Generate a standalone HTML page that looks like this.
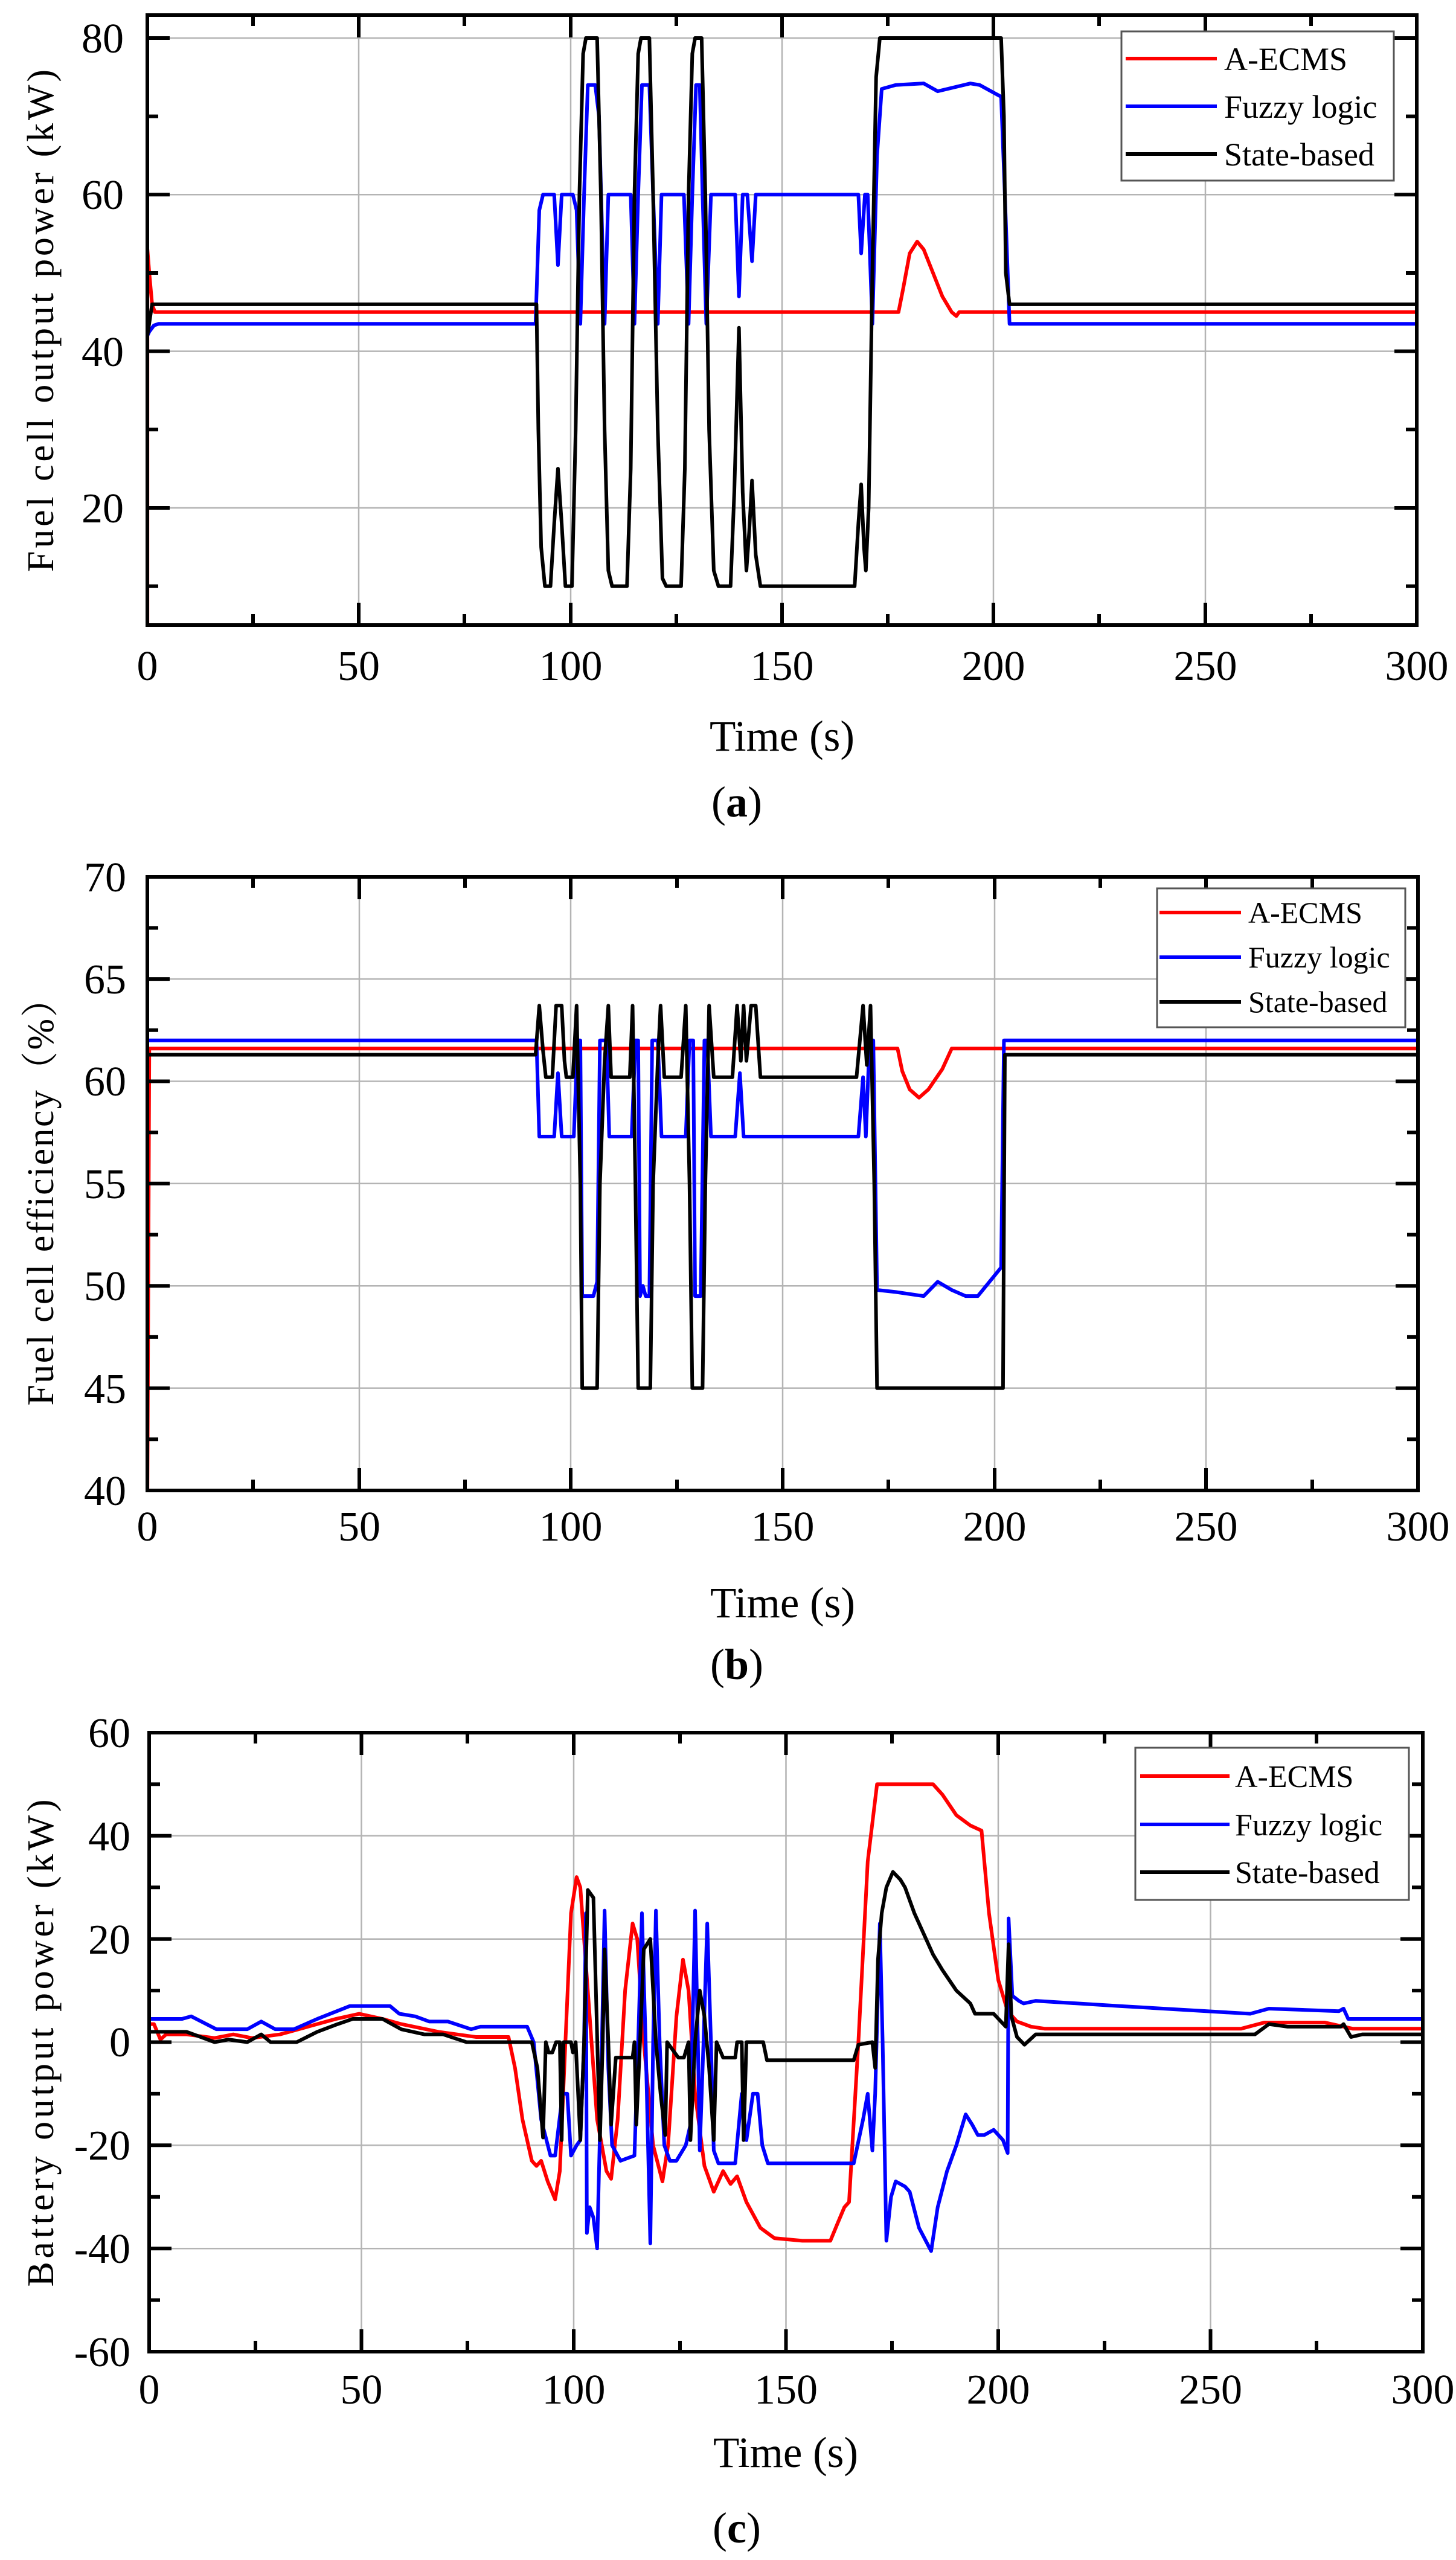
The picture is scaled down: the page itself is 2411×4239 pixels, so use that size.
<!DOCTYPE html>
<html><head><meta charset="utf-8"><style>html,body{margin:0;padding:0;background:#fff}svg{display:block}</style></head>
<body>
<svg width="2411" height="4239" viewBox="0 0 2411 4239" xmlns="http://www.w3.org/2000/svg" font-family="'Liberation Serif', 'Noto Serif CJK SC', serif">
<defs>
<clipPath id="ca"><rect x="244" y="25" width="2102" height="1010"/></clipPath>
<clipPath id="cb"><rect x="244" y="1452" width="2104" height="1016"/></clipPath>
<clipPath id="cc"><rect x="247" y="2869" width="2109" height="1025"/></clipPath>
</defs>
<rect width="2411" height="4239" fill="#fff"/>

<!-- ============ PLOT A ============ -->
<g stroke="#b4b4b4" stroke-width="2.5" fill="none">
<path d="M594 25V1035M945 25V1035M1295 25V1035M1645 25V1035M1996 25V1035M244 841H2346M244 581.6H2346M244 322.3H2346M244 63H2346"/>
</g>
<g clip-path="url(#ca)" fill="none" stroke-linejoin="round">
<g transform="matrix(1.545 0 0 -12.967 0 1100.3)">
<polyline vector-effect="non-scaling-stroke" stroke="#ff0000" stroke-width="6" points="158,5 158,53 160,50 163,46 166,45 963,45 968,48 975,52.5 983,54 990,53 1000,50 1010,47 1020,45 1025,44.5 1028,45 1518,45"/>
<polyline vector-effect="non-scaling-stroke" stroke="#0000ff" stroke-width="6" points="158,42 160,42.5 165,43.3 170,43.5 574,43.5 578,58 582,60 594,60 598,51 602,60 614,60 618,58 622,43.5 626,60 630,74 638,74 642,70 648,43.5 652,60 676,60 680,43.5 684,60 688,74 696,74 700,60 705,43.5 709,60 733,60 738,43.5 742,60 746,74 750,74 753,60 757,43.5 762,60 788,60 792,47 796,60 801,60 806,51.5 810,60 920,60 923,52.5 927,60 930,60 935,43.5 940,65 945,73.5 960,74 990,74.2 1005,73.2 1040,74.2 1050,74 1073,72.5 1077,60 1082,43.5 1518,43.5"/>
<polyline vector-effect="non-scaling-stroke" stroke="#000" stroke-width="6" points="158,42 163,46 575,46 577,30 580,15 584,10 590,10 594,18 598,25 602,18 606,10 613,10 617,30 621,60 625,78 628,80 640,80 644,60 648,30 652,12 656,10 672,10 676,25 680,60 684,78 687,80 696,80 700,60 705,30 710,11 714,10 730,10 734,25 738,60 742,78 745,80 752,80 756,60 760,30 765,12 770,10 783,10 787,22 792,43 796,22 800,12 803,17 806,23.5 810,14 815,10 916,10 920,18 923,23 926,15 928,12 931,20 935,50 939,75 943,80 1073,80 1076,70 1078,50 1082,46 1518,46"/>
</g></g>
<g stroke="#000" stroke-width="6" fill="none">
<path d="M594 1035v-37M945 1035v-37M1295 1035v-37M1645 1035v-37M1996 1035v-37M594 25v37M945 25v37M1295 25v37M1645 25v37M1996 25v37
M419 1035v-18M769 1035v-18M1120 1035v-18M1470 1035v-18M1820 1035v-18M2171 1035v-18M419 25v18M769 25v18M1120 25v18M1470 25v18M1820 25v18M2171 25v18
M244 841h37M244 581.6h37M244 322.3h37M244 63h37M2346 841h-37M2346 581.6h-37M2346 322.3h-37M2346 63h-37
M244 970.6h18M244 711.3h18M244 452h18M244 192.6h18M2346 970.6h-18M2346 711.3h-18M2346 452h-18M2346 192.6h-18"/>
<rect x="244" y="25" width="2102" height="1010"/>
</g>
<g font-size="70" text-anchor="end">
<text x="205" y="87">80</text><text x="205" y="346">60</text><text x="205" y="606">40</text><text x="205" y="865">20</text>
</g>
<g font-size="70" text-anchor="middle">
<text x="244" y="1126">0</text><text x="594" y="1126">50</text><text x="945" y="1126">100</text><text x="1295" y="1126">150</text><text x="1645" y="1126">200</text><text x="1996" y="1126">250</text><text x="2346" y="1126">300</text>
<text x="1295" y="1243" textLength="240" lengthAdjust="spacingAndGlyphs" font-size="72">Time (s)</text>
<text x="1220" y="1352" font-size="72">(<tspan font-weight="bold">a</tspan>)</text>
</g>
<text transform="translate(88 531) rotate(-90)" text-anchor="middle" font-size="62" textLength="832" lengthAdjust="spacing">Fuel cell output power (kW)</text>
<g>
<rect x="1857" y="52" width="451" height="247" fill="#fff" stroke="#555" stroke-width="3"/>
<path d="M1864 97h151" stroke="#ff0000" stroke-width="6"/><path d="M1864 176h151" stroke="#0000ff" stroke-width="6"/><path d="M1864 255h151" stroke="#000" stroke-width="6"/>
<g font-size="54"><text x="2027" y="116">A-ECMS</text><text x="2027" y="195">Fuzzy logic</text><text x="2027" y="274">State-based</text></g>
</g>

<!-- ============ PLOT B ============ -->
<g stroke="#b4b4b4" stroke-width="2.5" fill="none">
<path d="M595 1452V2468M945 1452V2468M1296 1452V2468M1647 1452V2468M1997 1452V2468M244 2298.6H2348M244 2129.2H2348M244 1959.8H2348M244 1790.5H2348M244 1621.1H2348"/>
</g>
<g clip-path="url(#cb)" fill="none" stroke-linejoin="round">
<g transform="matrix(1.545 0 0 -33.87 0 3822.7)">
<polyline vector-effect="non-scaling-stroke" stroke="#ff0000" stroke-width="6" points="158,40 160,61.6 962,61.6 967,60.5 975,59.6 985,59.2 995,59.6 1010,60.6 1020,61.6 1520,61.6"/>
<polyline vector-effect="non-scaling-stroke" stroke="#0000ff" stroke-width="6" points="158,62 575,62 578,57.3 594,57.3 598,60.4 602,57.3 615,57.3 619,62 622,62 624,49.5 636,49.5 640,50.2 643,62 650,62 653,57.3 677,57.3 681,62 684,62 686,49.5 689,50 692,49.5 696,49.5 699,62 705,62 709,57.3 735,57.3 739,62 743,62 745,49.5 751,49.5 755,62 758,62 762,57.3 788,57.3 793,60.4 797,57.3 920,57.3 925,60.2 928,57.3 932,62 936,62 940,49.8 960,49.7 990,49.5 1005,50.2 1020,49.8 1035,49.5 1048,49.5 1073,50.9 1076,62 1520,62"/>
<polyline vector-effect="non-scaling-stroke" stroke="#000" stroke-width="6" points="158,61.3 574,61.3 578,63.7 582,61.5 585,60.2 592,60.2 596,63.7 602,63.7 605,61 607,60.2 614,60.2 618,63.7 622,55 624,45 640,45 643,55 648,61 652,63.7 655,60.2 675,60.2 678,63.7 681,55 684,45 697,45 700,55 705,61 708,63.7 712,60.2 730,60.2 735,63.7 739,55 742,45 753,45 756,55 760,63.7 765,60.2 785,60.2 790,63.7 794,61 797,63.7 800,61 805,63.7 810,63.7 815,60.2 918,60.2 925,63.7 929,60.8 933,63.7 937,55 940,45 1075,45 1077,61.3 1520,61.3"/>
</g></g>
<g stroke="#000" stroke-width="6" fill="none">
<path d="M595 2468v-37M945 2468v-37M1296 2468v-37M1647 2468v-37M1997 2468v-37M595 1452v37M945 1452v37M1296 1452v37M1647 1452v37M1997 1452v37
M419 2468v-18M770 2468v-18M1121 2468v-18M1471 2468v-18M1822 2468v-18M2173 2468v-18M419 1452v18M770 1452v18M1121 1452v18M1471 1452v18M1822 1452v18M2173 1452v18
M244 2298.6h37M244 2129.2h37M244 1959.8h37M244 1790.5h37M244 1621.1h37M2348 2298.6h-37M2348 2129.2h-37M2348 1959.8h-37M2348 1790.5h-37M2348 1621.1h-37
M244 2383.2h18M244 2213.9h18M244 2044.5h18M244 1875.2h18M244 1705.8h18M244 1536.5h18M2348 2383.2h-18M2348 2213.9h-18M2348 2044.5h-18M2348 1875.2h-18M2348 1705.8h-18M2348 1536.5h-18"/>
<rect x="244" y="1452" width="2104" height="1016"/>
</g>
<g font-size="70" text-anchor="end">
<text x="209" y="1476">70</text><text x="209" y="1645">65</text><text x="209" y="1814">60</text><text x="209" y="1984">55</text><text x="209" y="2153">50</text><text x="209" y="2323">45</text><text x="209" y="2492">40</text>
</g>
<g font-size="70" text-anchor="middle">
<text x="244" y="2551">0</text><text x="595" y="2551">50</text><text x="945" y="2551">100</text><text x="1296" y="2551">150</text><text x="1647" y="2551">200</text><text x="1997" y="2551">250</text><text x="2348" y="2551">300</text>
<text x="1296" y="2678" textLength="240" lengthAdjust="spacingAndGlyphs" font-size="72">Time (s)</text>
<text x="1220" y="2780" font-size="72">(<tspan font-weight="bold">b</tspan>)</text>
</g>
<text transform="translate(88 1975) rotate(-90)" text-anchor="middle" font-size="62" textLength="705" lengthAdjust="spacing">Fuel cell efficiency（%）</text>
<g>
<rect x="1916" y="1471" width="411" height="230" fill="#fff" stroke="#555" stroke-width="3"/>
<path d="M1920 1511h135" stroke="#ff0000" stroke-width="6"/><path d="M1920 1585h135" stroke="#0000ff" stroke-width="6"/><path d="M1920 1659h135" stroke="#000" stroke-width="6"/>
<g font-size="50"><text x="2067" y="1528">A-ECMS</text><text x="2067" y="1602">Fuzzy logic</text><text x="2067" y="1676">State-based</text></g>
</g>

<!-- ============ PLOT C ============ -->
<g stroke="#b4b4b4" stroke-width="2.5" fill="none">
<path d="M598.5 2869V3894M950 2869V3894M1301.5 2869V3894M1653 2869V3894M2004.5 2869V3894M247 3039.8H2356M247 3210.7H2356M247 3381.5H2356M247 3552.3H2356M247 3723.2H2356"/>
</g>
<g clip-path="url(#cc)" fill="none" stroke-linejoin="round">
<g transform="matrix(1.545 0 0 -8.542 0 3381.5)">
<polyline vector-effect="non-scaling-stroke" stroke="#ff0000" stroke-width="6" points="160,3.5 165,3.5 172,0.5 178,1.5 200,1.5 230,0.8 250,1.5 270,0.8 300,1.5 330,3 360,4.5 385,5.5 410,4.5 430,3.5 470,2 510,1 545,1 552,-5 560,-15 570,-23 575,-24 580,-23 587,-27 595,-30.5 600,-25 606,0 612,25 618,32 622,30 630,10 640,-15 650,-25 655,-26.5 662,-15 670,10 678,23 683,20 690,0 700,-20 710,-27 716,-20 725,5 732,16 738,10 745,-10 755,-24 765,-29 775,-25 783,-27.5 790,-26 800,-31 815,-36 830,-38 860,-38.5 890,-38.5 898,-35 905,-32 910,-31 920,0 930,35 940,50 1000,50 1010,48 1025,44 1040,42 1052,41 1060,25 1070,12 1080,6 1090,4 1105,3 1120,2.6 1330,2.6 1355,3.8 1420,3.8 1450,2.6 1525,2.6"/>
<polyline vector-effect="non-scaling-stroke" stroke="#0000ff" stroke-width="6" points="160,4.5 195,4.5 205,5 232,2.5 265,2.5 280,4 295,2.5 315,2.5 340,4.5 375,7 418,7 428,5.5 445,5 460,4 480,4 505,2.5 515,3 565,3 572,0 580,-15 590,-22 595,-22 603,-10 608,-10 612,-22 618,-20 622,-19 626,0 628,25 629,-37 632,-32 636,-34 640,-40 644,-10 648,25.5 652,-5 656,-20 665,-23 680,-22 684,0 688,25 692,0 697,-39 700,0 703,25.5 707,0 712,-20 718,-23 725,-23 735,-20 740,-16 745,25.5 748,0 750,-21 754,0 758,23 762,0 765,-21 770,-23.5 788,-23.5 795,-10 800,-19 807,-10 812,-10 817,-20 823,-23.5 915,-23.5 925,-15 930,-10 935,-21 938,-10 943,23 946,0 950,-38.5 955,-30 960,-27 970,-28 975,-29 985,-36 998,-40.5 1005,-32 1015,-25 1025,-20 1035,-14 1042,-16 1048,-18 1055,-18 1065,-17 1075,-19 1080,-21.5 1081,24 1085,9 1092,8 1097,7.5 1110,8 1200,7 1340,5.5 1360,6.5 1435,6 1440,6.5 1445,4.5 1525,4.5"/>
<polyline vector-effect="non-scaling-stroke" stroke="#000" stroke-width="6" points="160,2 200,2 215,1 230,0 245,0.5 265,0 280,1.5 290,0 318,0 340,2 362,3.5 378,4.5 410,4.5 430,2.5 455,1.5 475,1.5 500,0 570,0 576,-5 582,-18.5 585,0 588,-2 592,-2 596,0 600,0 602,-19 604,0 612,0 614,-2 617,0 622,-19 626,0 630,29.5 636,28 643,-19 646,0 648,18 652,0 655,-16 660,-3 668,-3 678,-3 680,0 682,-16 686,0 690,18 697,20 703,0 708,-10 713,-18 715,0 727,-3 733,-3 738,0 740,-19 745,0 750,10 755,5 760,-5 765,-19 768,0 775,-3 788,-3 790,0 795,0 797,-19 800,0 818,0 822,-3.5 915,-3.5 920,-0.5 935,0 938,-5 941,16 945,25 950,30 957,33 965,31.5 970,30 980,25 990,21 1000,17 1010,14 1025,10 1040,7.5 1045,5.5 1065,5.5 1078,3 1081,19 1084,5 1090,1 1098,-0.5 1110,1.5 1345,1.5 1360,3.5 1380,3 1437,3 1440,3.5 1448,1 1460,1.5 1525,1.5"/>
</g></g>
<g stroke="#000" stroke-width="6" fill="none">
<path d="M598.5 3894v-37M950 3894v-37M1301.5 3894v-37M1653 3894v-37M2004.5 3894v-37M598.5 2869v37M950 2869v37M1301.5 2869v37M1653 2869v37M2004.5 2869v37
M423 3894v-18M774 3894v-18M1126 3894v-18M1477 3894v-18M1829 3894v-18M2180 3894v-18M423 2869v18M774 2869v18M1126 2869v18M1477 2869v18M1829 2869v18M2180 2869v18
M247 3039.8h37M247 3210.7h37M247 3381.5h37M247 3552.3h37M247 3723.2h37M2356 3039.8h-37M2356 3210.7h-37M2356 3381.5h-37M2356 3552.3h-37M2356 3723.2h-37
M247 2954.4h18M247 3125.2h18M247 3296.1h18M247 3466.9h18M247 3637.8h18M247 3808.6h18M2356 2954.4h-18M2356 3125.2h-18M2356 3296.1h-18M2356 3466.9h-18M2356 3637.8h-18M2356 3808.6h-18"/>
<rect x="247" y="2869" width="2109" height="1025"/>
</g>
<g font-size="70" text-anchor="end">
<text x="216" y="2893">60</text><text x="216" y="3064">40</text><text x="216" y="3235">20</text><text x="216" y="3405">0</text><text x="216" y="3576">-20</text><text x="216" y="3747">-40</text><text x="216" y="3918">-60</text>
</g>
<g font-size="70" text-anchor="middle">
<text x="247" y="3980">0</text><text x="598.5" y="3980">50</text><text x="950" y="3980">100</text><text x="1301.5" y="3980">150</text><text x="1653" y="3980">200</text><text x="2004.5" y="3980">250</text><text x="2356" y="3980">300</text>
<text x="1301" y="4085" textLength="240" lengthAdjust="spacingAndGlyphs" font-size="72">Time (s)</text>
<text x="1220" y="4210" font-size="72">(<tspan font-weight="bold">c</tspan>)</text>
</g>
<text transform="translate(88 3383) rotate(-90)" text-anchor="middle" font-size="62" textLength="807" lengthAdjust="spacing">Battery output power (kW)</text>
<g>
<rect x="1880" y="2894" width="453" height="252" fill="#fff" stroke="#555" stroke-width="3"/>
<path d="M1888 2941h148" stroke="#ff0000" stroke-width="6"/><path d="M1888 3021h148" stroke="#0000ff" stroke-width="6"/><path d="M1888 3100h148" stroke="#000" stroke-width="6"/>
<g font-size="52"><text x="2045" y="2959">A-ECMS</text><text x="2045" y="3039">Fuzzy logic</text><text x="2045" y="3118">State-based</text></g>
</g>
</svg>
</body></html>
